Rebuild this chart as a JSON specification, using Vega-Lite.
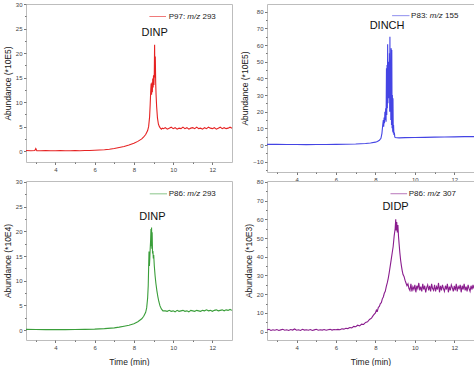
{
  "$schema": "https://vega.github.io/schema/vega-lite/v6.json",
  "padding": {"left": 2, "top": 0, "right": 0, "bottom": 0},
  "background": "white",
  "columns": 2,
  "bounds": "flush",
  "spacing": {"row": 9, "column": 35},
  "config": {
    "view": {"stroke": "#bdbdbd", "strokeWidth": 1},
    "font": "Liberation Sans",
    "axis": {"domain": false, "grid": false, "tickColor": "#777", "tickSize": 2.5, "labelFontSize": 6, "labelColor": "#444", "labelPadding": 1.5, "titleFontSize": 8.5, "titleFontWeight": "normal", "titleColor": "#222", "labelFont": "Liberation Sans", "titleFont": "Liberation Sans"}
  },
  "datasets": {
    "red": [
      {"t":2.5,"v":0.15},{"t":2.75,"v":0.1},{"t":2.95,"v":0.15},{"t":3.0,"v":0.55},{"t":3.05,"v":0.12},{"t":3.25,"v":0.1},{"t":3.5,"v":0.12},{"t":3.75,"v":0.08},{"t":4.0,"v":0.1},{"t":4.25,"v":0.12},{"t":4.5,"v":0.08},{"t":4.75,"v":0.1},{"t":5.0,"v":0.12},{"t":5.25,"v":0.1},{"t":5.5,"v":0.15},{"t":5.75,"v":0.15},{"t":6.0,"v":0.2},{"t":6.25,"v":0.25},{"t":6.5,"v":0.3},{"t":6.75,"v":0.4},{"t":7.0,"v":0.55},{"t":7.25,"v":0.75},{"t":7.5,"v":0.95},{"t":7.75,"v":1.25},{"t":8.0,"v":1.6},{"t":8.2,"v":2.0},{"t":8.4,"v":2.5},{"t":8.5,"v":2.9},{"t":8.6,"v":3.4},{"t":8.7,"v":4.2},{"t":8.75,"v":5.0},{"t":8.8,"v":7.0},{"t":8.83,"v":9.5},{"t":8.86,"v":12.5},{"t":8.88,"v":13.8},{"t":8.9,"v":11.5},{"t":8.92,"v":14.0},{"t":8.94,"v":12.0},{"t":8.96,"v":14.8},{"t":8.98,"v":13.0},{"t":9.0,"v":15.5},{"t":9.02,"v":13.5},{"t":9.04,"v":16.0},{"t":9.055,"v":21.7},{"t":9.07,"v":15.0},{"t":9.09,"v":19.3},{"t":9.11,"v":14.0},{"t":9.13,"v":11.5},{"t":9.16,"v":9.0},{"t":9.2,"v":6.8},{"t":9.25,"v":5.5},{"t":9.3,"v":5.0},{"t":9.35,"v":4.7},{"t":9.4,"v":4.5},{"t":9.45,"v":4.7},
      {"t":9.5,"v":4.6},{"t":9.6,"v":4.8},{"t":9.7,"v":4.5},{"t":9.8,"v":4.7},{"t":9.9,"v":4.9},{"t":10.0,"v":4.6},{"t":10.1,"v":4.8},{"t":10.2,"v":4.5},{"t":10.3,"v":4.7},{"t":10.4,"v":4.6},{"t":10.5,"v":4.9},{"t":10.6,"v":4.6},{"t":10.7,"v":4.8},{"t":10.8,"v":4.5},{"t":10.9,"v":4.7},{"t":11.0,"v":4.8},{"t":11.1,"v":4.6},{"t":11.2,"v":4.9},{"t":11.3,"v":4.6},{"t":11.4,"v":4.7},{"t":11.5,"v":4.5},{"t":11.6,"v":4.8},{"t":11.7,"v":4.6},{"t":11.8,"v":4.9},{"t":11.9,"v":4.7},{"t":12.0,"v":4.6},{"t":12.1,"v":4.8},{"t":12.2,"v":4.5},{"t":12.3,"v":4.7},{"t":12.4,"v":4.9},{"t":12.5,"v":4.6},{"t":12.6,"v":4.8},{"t":12.7,"v":4.6},{"t":12.8,"v":4.7},{"t":12.9,"v":4.9},{"t":13.0,"v":4.7}
    ],
    "blue": [
      {"t":2.5,"v":0.4},{"t":3.0,"v":0.35},{"t":3.5,"v":0.3},{"t":4.0,"v":0.3},{"t":4.5,"v":0.25},{"t":5.0,"v":0.3},{"t":5.5,"v":0.3},{"t":6.0,"v":0.35},{"t":6.5,"v":0.45},{"t":7.0,"v":0.6},{"t":7.5,"v":0.9},{"t":7.75,"v":1.2},{"t":8.0,"v":1.7},{"t":8.1,"v":2.1},{"t":8.2,"v":2.8},{"t":8.28,"v":4.0},{"t":8.33,"v":7.0},{"t":8.37,"v":12.0},{"t":8.4,"v":15.0},{"t":8.42,"v":11.0},{"t":8.44,"v":16.5},{"t":8.46,"v":13.0},{"t":8.48,"v":20.0},{"t":8.5,"v":15.0},{"t":8.52,"v":22.0},{"t":8.54,"v":14.0},{"t":8.56,"v":46.0},{"t":8.575,"v":18.0},{"t":8.59,"v":48.0},{"t":8.605,"v":22.0},{"t":8.62,"v":60.5},{"t":8.635,"v":25.0},{"t":8.65,"v":50.0},{"t":8.665,"v":28.0},{"t":8.68,"v":47.0},{"t":8.695,"v":30.0},{"t":8.71,"v":55.0},{"t":8.725,"v":20.0},{"t":8.735,"v":65.0},{"t":8.75,"v":22.0},{"t":8.765,"v":50.0},{"t":8.78,"v":15.0},{"t":8.8,"v":58.0},{"t":8.815,"v":12.0},{"t":8.83,"v":57.0},{"t":8.845,"v":10.0},{"t":8.86,"v":30.0},{"t":8.875,"v":8.0},{"t":8.89,"v":28.0},{"t":8.905,"v":7.0},{"t":8.92,"v":12.0},{"t":8.94,"v":6.0},{"t":8.96,"v":7.5},{"t":8.98,"v":5.0},{"t":9.0,"v":4.5},{"t":9.2,"v":4.3},{"t":9.5,"v":4.4},{"t":10.0,"v":4.5},{"t":10.5,"v":4.6},{"t":11.0,"v":4.7},{"t":11.5,"v":4.8},{"t":12.0,"v":4.9},{"t":12.5,"v":5.0},{"t":13.0,"v":5.0}
    ],
    "green": [
      {"t":2.5,"v":0.15},{"t":3.0,"v":0.12},{"t":3.5,"v":0.1},{"t":4.0,"v":0.1},{"t":4.5,"v":0.1},{"t":5.0,"v":0.12},{"t":5.5,"v":0.15},{"t":6.0,"v":0.2},{"t":6.5,"v":0.3},{"t":7.0,"v":0.45},{"t":7.25,"v":0.6},{"t":7.5,"v":0.8},{"t":7.75,"v":1.0},{"t":8.0,"v":1.3},{"t":8.2,"v":1.7},{"t":8.4,"v":2.3},{"t":8.5,"v":2.8},{"t":8.6,"v":3.6},{"t":8.65,"v":4.5},{"t":8.7,"v":6.5},{"t":8.73,"v":9.0},{"t":8.75,"v":12.5},{"t":8.77,"v":15.9},{"t":8.79,"v":13.0},{"t":8.81,"v":14.5},{"t":8.83,"v":16.5},{"t":8.85,"v":18.0},{"t":8.87,"v":20.5},{"t":8.885,"v":17.0},{"t":8.9,"v":20.8},{"t":8.915,"v":16.5},{"t":8.93,"v":19.8},{"t":8.95,"v":15.5},{"t":8.97,"v":16.0},{"t":8.99,"v":14.5},{"t":9.01,"v":15.2},{"t":9.04,"v":13.0},{"t":9.08,"v":11.0},{"t":9.12,"v":9.5},{"t":9.17,"v":8.0},{"t":9.22,"v":6.8},{"t":9.27,"v":5.8},{"t":9.33,"v":4.9},{"t":9.4,"v":4.3},{"t":9.48,"v":3.9},
      {"t":9.6,"v":3.9},{"t":9.7,"v":3.8},{"t":9.8,"v":4.0},{"t":9.9,"v":3.8},{"t":10.0,"v":3.9},{"t":10.1,"v":3.7},{"t":10.2,"v":4.0},{"t":10.3,"v":3.8},{"t":10.4,"v":3.9},{"t":10.5,"v":4.0},{"t":10.6,"v":3.8},{"t":10.7,"v":3.9},{"t":10.8,"v":3.7},{"t":10.9,"v":4.0},{"t":11.0,"v":3.9},{"t":11.1,"v":3.8},{"t":11.2,"v":4.0},{"t":11.3,"v":3.9},{"t":11.4,"v":3.8},{"t":11.5,"v":4.0},{"t":11.6,"v":3.9},{"t":11.7,"v":4.1},{"t":11.8,"v":3.9},{"t":11.9,"v":4.0},{"t":12.0,"v":3.8},{"t":12.1,"v":4.0},{"t":12.2,"v":4.1},{"t":12.3,"v":3.9},{"t":12.4,"v":4.0},{"t":12.5,"v":4.1},{"t":12.6,"v":3.9},{"t":12.7,"v":4.1},{"t":12.8,"v":4.0},{"t":12.9,"v":4.2},{"t":13.0,"v":4.0}
    ],
    "purple": [
      {"t":2.5,"v":0.8},{"t":2.6,"v":1.2},{"t":2.7,"v":0.6},{"t":2.8,"v":1.0},{"t":2.9,"v":0.7},{"t":3.0,"v":1.1},{"t":3.1,"v":0.6},{"t":3.2,"v":0.9},{"t":3.3,"v":1.2},{"t":3.4,"v":0.7},{"t":3.5,"v":1.0},{"t":3.6,"v":0.6},{"t":3.7,"v":1.1},{"t":3.8,"v":0.8},{"t":3.9,"v":1.4},{"t":4.0,"v":0.7},{"t":4.1,"v":1.0},{"t":4.2,"v":0.6},{"t":4.3,"v":1.2},{"t":4.4,"v":0.8},{"t":4.5,"v":1.0},{"t":4.6,"v":0.7},{"t":4.7,"v":1.1},{"t":4.8,"v":0.6},{"t":4.9,"v":0.9},{"t":5.0,"v":1.2},{"t":5.1,"v":0.7},{"t":5.2,"v":1.0},{"t":5.3,"v":0.8},{"t":5.4,"v":1.1},{"t":5.5,"v":0.7},{"t":5.6,"v":1.0},{"t":5.7,"v":1.2},{"t":5.8,"v":0.8},{"t":5.9,"v":1.1},{"t":6.0,"v":1.0},
      {"t":6.1,"v":1.2},{"t":6.2,"v":1.0},{"t":6.3,"v":1.5},{"t":6.4,"v":1.3},{"t":6.5,"v":1.8},{"t":6.6,"v":1.6},{"t":6.7,"v":2.2},{"t":6.8,"v":2.0},{"t":6.9,"v":2.8},{"t":7.0,"v":2.6},{"t":7.1,"v":3.4},{"t":7.2,"v":3.0},{"t":7.3,"v":4.0},{"t":7.4,"v":3.8},{"t":7.5,"v":4.9},{"t":7.6,"v":5.2},{"t":7.7,"v":6.5},{"t":7.8,"v":7.2},{"t":7.9,"v":8.8},{"t":8.0,"v":10.0},{"t":8.05,"v":11.5},{"t":8.1,"v":11.0},{"t":8.15,"v":13.0},{"t":8.2,"v":13.5},{"t":8.25,"v":15.0},{"t":8.3,"v":15.5},{"t":8.35,"v":17.5},{"t":8.4,"v":18.5},{"t":8.45,"v":20.5},{"t":8.5,"v":21.5},{"t":8.55,"v":24.0},{"t":8.6,"v":26.0},{"t":8.65,"v":28.5},{"t":8.7,"v":31.5},{"t":8.75,"v":35.0},{"t":8.8,"v":38.5},{"t":8.85,"v":42.0},{"t":8.9,"v":45.5},{"t":8.95,"v":51.0},{"t":9.0,"v":55.0},{"t":9.03,"v":60.0},{"t":9.05,"v":54.0},{"t":9.08,"v":58.5},{"t":9.11,"v":53.0},{"t":9.14,"v":57.0},{"t":9.17,"v":51.0},{"t":9.2,"v":47.0},{"t":9.24,"v":42.0},{"t":9.28,"v":38.0},{"t":9.32,"v":35.0},{"t":9.36,"v":32.5},{"t":9.4,"v":30.5},{"t":9.45,"v":29.5},{"t":9.5,"v":27.5},{"t":9.55,"v":26.0},{"t":9.6,"v":24.5},{"t":9.65,"v":25.5},{"t":9.7,"v":23.0},
      {"t":9.75,"v":22.0},{"t":9.8,"v":25.5},{"t":9.85,"v":21.5},{"t":9.9,"v":24.0},{"t":9.95,"v":22.5},{"t":10.0,"v":25.0},{"t":10.05,"v":21.0},{"t":10.1,"v":24.5},{"t":10.15,"v":23.0},{"t":10.2,"v":26.0},{"t":10.25,"v":22.0},{"t":10.3,"v":24.0},{"t":10.35,"v":21.5},{"t":10.4,"v":25.5},{"t":10.45,"v":22.5},{"t":10.5,"v":24.5},{"t":10.55,"v":21.0},{"t":10.6,"v":23.5},{"t":10.65,"v":25.0},{"t":10.7,"v":22.0},{"t":10.75,"v":24.5},{"t":10.8,"v":21.5},{"t":10.85,"v":25.5},{"t":10.9,"v":23.0},{"t":10.95,"v":22.0},{"t":11.0,"v":25.0},{"t":11.05,"v":21.5},{"t":11.1,"v":24.0},{"t":11.15,"v":22.5},{"t":11.2,"v":26.0},{"t":11.25,"v":21.0},{"t":11.3,"v":24.5},{"t":11.35,"v":22.0},{"t":11.4,"v":25.0},{"t":11.45,"v":23.0},{"t":11.5,"v":21.5},{"t":11.55,"v":24.5},{"t":11.6,"v":22.5},{"t":11.65,"v":25.5},{"t":11.7,"v":21.0},{"t":11.75,"v":24.0},{"t":11.8,"v":22.0},{"t":11.85,"v":25.0},{"t":11.9,"v":23.5},{"t":11.95,"v":21.5},{"t":12.0,"v":24.5},{"t":12.05,"v":22.0},{"t":12.1,"v":25.5},{"t":12.15,"v":21.5},{"t":12.2,"v":24.0},{"t":12.25,"v":23.0},{"t":12.3,"v":25.0},{"t":12.35,"v":21.0},{"t":12.4,"v":24.5},{"t":12.45,"v":22.5},{"t":12.5,"v":25.5},{"t":12.55,"v":22.0},{"t":12.6,"v":24.0},{"t":12.65,"v":21.5},{"t":12.7,"v":25.0},{"t":12.75,"v":23.0},{"t":12.8,"v":21.5},{"t":12.85,"v":24.5},{"t":12.9,"v":22.5},{"t":12.95,"v":25.0},{"t":13.0,"v":23.0}
    ]
  },
  "concat": [
    {
      "width": 206, "height": 158,
      "resolve": {"axis": {"x": "independent", "y": "independent"}},
      "layer": [
        {"data": {"name": "red"}, "mark": {"type": "line", "color": "#e62222", "strokeWidth": 1.1},
         "encoding": {
           "x": {"field": "t", "type": "quantitative", "scale": {"domain": [2.5, 13], "nice": false, "zero": false}, "axis": {"values": [4, 6, 8, 10, 12], "title": null}},
           "y": {"field": "v", "type": "quantitative", "scale": {"domain": [-2.2, 30], "nice": false, "zero": false}, "axis": {"values": [0, 5, 10, 15, 20, 25, 30], "title": "Abundance (*10E5)", "titlePadding": 3}}}},
        {"data": {"values": [{"t": 8.79, "t2": 9.636, "v": 27.45}]}, "mark": {"type": "rule", "color": "#e62222", "strokeWidth": 1, "opacity": 0.6},
         "encoding": {
           "x": {"field": "t", "type": "quantitative", "axis": {"orient": "bottom", "values": [3, 5, 7, 9, 11], "labels": false, "tickSize": 1.5, "title": null}},
           "x2": {"field": "t2"},
           "y": {"field": "v", "type": "quantitative", "axis": {"orient": "left", "values": [2.5, 7.5, 12.5, 17.5, 22.5, 27.5], "labels": false, "tickSize": 1.5, "title": null}}}},
        {"data": {"values": [{"t": 9.774, "v": 27.45, "s": "P97:"}, {"t": 11.493, "v": 27.45, "s": "293"}]}, "mark": {"type": "text", "align": "left", "baseline": "middle", "fontSize": 8, "color": "#222"},
         "encoding": {"x": {"field": "t", "type": "quantitative", "axis": null}, "y": {"field": "v", "type": "quantitative", "axis": null}, "text": {"field": "s"}}},
        {"data": {"values": [{"t": 10.725, "v": 27.45, "s": "m/z"}]}, "mark": {"type": "text", "align": "left", "baseline": "middle", "fontSize": 8, "fontStyle": "italic", "color": "#222"},
         "encoding": {"x": {"field": "t", "type": "quantitative", "axis": null}, "y": {"field": "v", "type": "quantitative", "axis": null}, "text": {"field": "s"}}},
        {"data": {"values": [{"t": 9.06, "v": 24.1, "s": "DINP"}]}, "mark": {"type": "text", "align": "center", "baseline": "middle", "fontSize": 11, "color": "#111"},
         "encoding": {"x": {"field": "t", "type": "quantitative", "axis": null}, "y": {"field": "v", "type": "quantitative", "axis": null}, "text": {"field": "s"}}}
      ]
    },
    {
      "width": 207, "height": 168,
      "resolve": {"axis": {"x": "independent", "y": "independent"}},
      "layer": [
        {"data": {"name": "blue"}, "mark": {"type": "line", "color": "#4444e4", "strokeWidth": 1.1},
         "encoding": {
           "x": {"field": "t", "type": "quantitative", "scale": {"domain": [2.5, 13], "nice": false, "zero": false}, "axis": {"values": [4, 6, 8, 10, 12], "title": null}},
           "y": {"field": "v", "type": "quantitative", "scale": {"domain": [-16.2, 84.6], "nice": false, "zero": false}, "axis": {"values": [-10, 0, 10, 20, 30, 40, 50, 60, 70, 80], "title": "Abundance (*10E5)", "titlePadding": 3}}}},
        {"data": {"values": [{"t": 8.845, "t2": 9.728, "v": 77.6}]}, "mark": {"type": "rule", "color": "#4444e4", "strokeWidth": 1, "opacity": 0.6},
         "encoding": {
           "x": {"field": "t", "type": "quantitative", "axis": {"orient": "bottom", "values": [3, 5, 7, 9, 11], "labels": false, "tickSize": 1.5, "title": null}},
           "x2": {"field": "t2"},
           "y": {"field": "v", "type": "quantitative", "axis": {"orient": "left", "values": [-15, -5, 5, 15, 25, 35, 45, 55, 65, 75], "labels": false, "tickSize": 1.5, "title": null}}}},
        {"data": {"values": [{"t": 9.81, "v": 77.6, "s": "P83:"}, {"t": 11.53, "v": 77.6, "s": "155"}]}, "mark": {"type": "text", "align": "left", "baseline": "middle", "fontSize": 8, "color": "#222"},
         "encoding": {"x": {"field": "t", "type": "quantitative", "axis": null}, "y": {"field": "v", "type": "quantitative", "axis": null}, "text": {"field": "s"}}},
        {"data": {"values": [{"t": 10.76, "v": 77.6, "s": "m/z"}]}, "mark": {"type": "text", "align": "left", "baseline": "middle", "fontSize": 8, "fontStyle": "italic", "color": "#222"},
         "encoding": {"x": {"field": "t", "type": "quantitative", "axis": null}, "y": {"field": "v", "type": "quantitative", "axis": null}, "text": {"field": "s"}}},
        {"data": {"values": [{"t": 8.59, "v": 71.6, "s": "DINCH"}]}, "mark": {"type": "text", "align": "center", "baseline": "middle", "fontSize": 11, "color": "#111"},
         "encoding": {"x": {"field": "t", "type": "quantitative", "axis": null}, "y": {"field": "v", "type": "quantitative", "axis": null}, "text": {"field": "s"}}}
      ]
    },
    {
      "width": 206, "height": 159,
      "resolve": {"axis": {"x": "independent", "y": "independent"}},
      "layer": [
        {"data": {"name": "green"}, "mark": {"type": "line", "color": "#3a9e3a", "strokeWidth": 1.1},
         "encoding": {
           "x": {"field": "t", "type": "quantitative", "scale": {"domain": [2.5, 13], "nice": false, "zero": false}, "axis": {"values": [4, 6, 8, 10, 12], "title": "Time (min)", "titlePadding": 7}},
           "y": {"field": "v", "type": "quantitative", "scale": {"domain": [-2, 30.2], "nice": false, "zero": false}, "axis": {"values": [0, 5, 10, 15, 20, 25, 30], "title": "Abundance (*10E4)", "titlePadding": 3}}}},
        {"data": {"values": [{"t": 8.807, "t2": 9.687, "v": 27.6}]}, "mark": {"type": "rule", "color": "#3a9e3a", "strokeWidth": 1, "opacity": 0.6},
         "encoding": {
           "x": {"field": "t", "type": "quantitative", "axis": {"orient": "bottom", "values": [3, 5, 7, 9, 11], "labels": false, "tickSize": 1.5, "title": null}},
           "x2": {"field": "t2"},
           "y": {"field": "v", "type": "quantitative", "axis": {"orient": "left", "values": [2.5, 7.5, 12.5, 17.5, 22.5, 27.5], "labels": false, "tickSize": 1.5, "title": null}}}},
        {"data": {"values": [{"t": 9.774, "v": 27.6, "s": "P86:"}, {"t": 11.493, "v": 27.6, "s": "293"}]}, "mark": {"type": "text", "align": "left", "baseline": "middle", "fontSize": 8, "color": "#222"},
         "encoding": {"x": {"field": "t", "type": "quantitative", "axis": null}, "y": {"field": "v", "type": "quantitative", "axis": null}, "text": {"field": "s"}}},
        {"data": {"values": [{"t": 10.725, "v": 27.6, "s": "m/z"}]}, "mark": {"type": "text", "align": "left", "baseline": "middle", "fontSize": 8, "fontStyle": "italic", "color": "#222"},
         "encoding": {"x": {"field": "t", "type": "quantitative", "axis": null}, "y": {"field": "v", "type": "quantitative", "axis": null}, "text": {"field": "s"}}},
        {"data": {"values": [{"t": 8.94, "v": 23.0, "s": "DINP"}]}, "mark": {"type": "text", "align": "center", "baseline": "middle", "fontSize": 11, "color": "#111"},
         "encoding": {"x": {"field": "t", "type": "quantitative", "axis": null}, "y": {"field": "v", "type": "quantitative", "axis": null}, "text": {"field": "s"}}}
      ]
    },
    {
      "width": 207, "height": 159,
      "resolve": {"axis": {"x": "independent", "y": "independent"}},
      "layer": [
        {"data": {"name": "purple"}, "mark": {"type": "line", "color": "#8a1d8e", "strokeWidth": 1.1},
         "encoding": {
           "x": {"field": "t", "type": "quantitative", "scale": {"domain": [2.5, 13], "nice": false, "zero": false}, "axis": {"values": [4, 6, 8, 10, 12], "title": "Time (min)", "titlePadding": 7}},
           "y": {"field": "v", "type": "quantitative", "scale": {"domain": [-4.5, 80.5], "nice": false, "zero": false}, "axis": {"values": [0, 10, 20, 30, 40, 50, 60, 70, 80], "title": "Abundance (*10E3)", "titlePadding": 3}}}},
        {"data": {"values": [{"t": 8.764, "t2": 9.607, "v": 73.7}]}, "mark": {"type": "rule", "color": "#8a1d8e", "strokeWidth": 1, "opacity": 0.6},
         "encoding": {
           "x": {"field": "t", "type": "quantitative", "axis": {"orient": "bottom", "values": [3, 5, 7, 9, 11], "labels": false, "tickSize": 1.5, "title": null}},
           "x2": {"field": "t2"},
           "y": {"field": "v", "type": "quantitative", "axis": {"orient": "left", "values": [5, 15, 25, 35, 45, 55, 65, 75], "labels": false, "tickSize": 1.5, "title": null}}}},
        {"data": {"values": [{"t": 9.69, "v": 73.7, "s": "P86:"}, {"t": 11.41, "v": 73.7, "s": "307"}]}, "mark": {"type": "text", "align": "left", "baseline": "middle", "fontSize": 8, "color": "#222"},
         "encoding": {"x": {"field": "t", "type": "quantitative", "axis": null}, "y": {"field": "v", "type": "quantitative", "axis": null}, "text": {"field": "s"}}},
        {"data": {"values": [{"t": 10.64, "v": 73.7, "s": "m/z"}]}, "mark": {"type": "text", "align": "left", "baseline": "middle", "fontSize": 8, "fontStyle": "italic", "color": "#222"},
         "encoding": {"x": {"field": "t", "type": "quantitative", "axis": null}, "y": {"field": "v", "type": "quantitative", "axis": null}, "text": {"field": "s"}}},
        {"data": {"values": [{"t": 9.02, "v": 66.6, "s": "DIDP"}]}, "mark": {"type": "text", "align": "center", "baseline": "middle", "fontSize": 11, "color": "#111"},
         "encoding": {"x": {"field": "t", "type": "quantitative", "axis": null}, "y": {"field": "v", "type": "quantitative", "axis": null}, "text": {"field": "s"}}}
      ]
    }
  ]
}
